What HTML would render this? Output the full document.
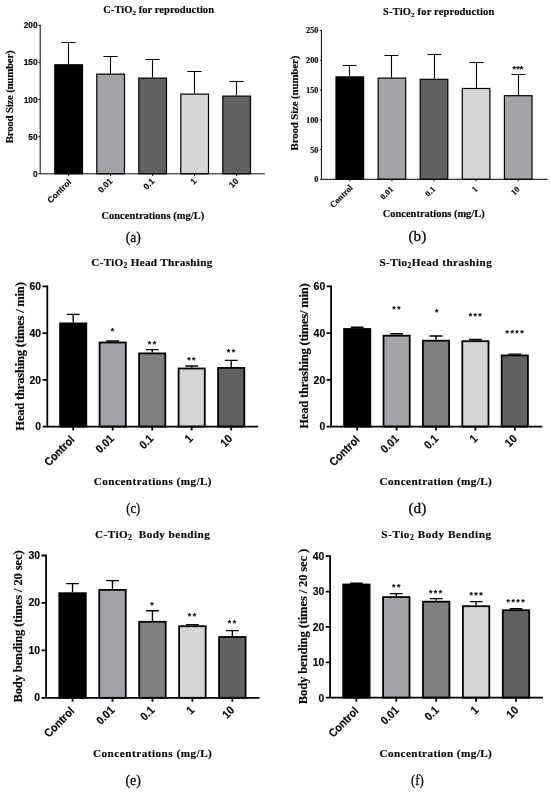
<!DOCTYPE html>
<html><head><meta charset="utf-8"><title>Figure</title>
<style>html,body{margin:0;padding:0;background:#fff}svg{display:block}text{fill:#000;stroke:#000;stroke-width:.14px;stroke-linejoin:round}.cap{stroke-width:.26px}.st{stroke-width:.1px}</style></head>
<body>
<svg width="550" height="793" viewBox="0 0 550 793">
<rect width="550" height="793" fill="#fff"/>
<g id="chart-a">
<text x="158.6" y="12.7" text-anchor="middle" font-family='"Liberation Serif", serif' font-weight="bold" font-size="10.5" textLength="110.8" lengthAdjust="spacing" xml:space="preserve">C-TiO<tspan font-size="7.14" dy="2.21">2</tspan><tspan dy="-2.21"> for reproduction</tspan></text>
<path d="M68.5 64.2V42.5M61.4 42.5H75.6" stroke="#000" stroke-width="1.1" fill="none"/>
<path d="M110.5 73.5V56.5M103.4 56.5H117.6" stroke="#000" stroke-width="1.1" fill="none"/>
<path d="M152.5 77.5V59.5M145.4 59.5H159.6" stroke="#000" stroke-width="1.1" fill="none"/>
<path d="M194.5 93.5V71.5M187.4 71.5H201.6" stroke="#000" stroke-width="1.1" fill="none"/>
<path d="M236.5 95.5V81.5M229.4 81.5H243.6" stroke="#000" stroke-width="1.1" fill="none"/>
<rect x="54.8" y="64.8" width="27.7" height="109" fill="#000" stroke="#000" stroke-width="1.2"/>
<rect x="96.8" y="74.1" width="27.7" height="99.7" fill="#a2a4a7" stroke="#000" stroke-width="1.2"/>
<rect x="138.8" y="78.1" width="27.7" height="95.7" fill="#616161" stroke="#000" stroke-width="1.2"/>
<rect x="180.8" y="94.1" width="27.7" height="79.7" fill="#d5d5d5" stroke="#000" stroke-width="1.2"/>
<rect x="222.8" y="96.1" width="27.7" height="77.7" fill="#616161" stroke="#000" stroke-width="1.2"/>
<path d="M40.2 24.82V173.8H264.8" stroke="#000" stroke-width="0.95" fill="none" stroke-linejoin="miter"/>
<text x="37.5" y="28.27" text-anchor="end" font-family='"Liberation Sans", sans-serif' font-weight="bold" font-size="8.3">200</text>
<text x="37.5" y="65.4" text-anchor="end" font-family='"Liberation Sans", sans-serif' font-weight="bold" font-size="8.3">150</text>
<text x="37.5" y="102.52" text-anchor="end" font-family='"Liberation Sans", sans-serif' font-weight="bold" font-size="8.3">100</text>
<text x="37.5" y="139.65" text-anchor="end" font-family='"Liberation Sans", sans-serif' font-weight="bold" font-size="8.3">50</text>
<text x="37.5" y="176.77" text-anchor="end" font-family='"Liberation Sans", sans-serif' font-weight="bold" font-size="8.3">0</text>
<path d="M38.4 25.3H40.2M38.4 62.42H40.2M38.4 99.55H40.2M38.4 136.68H40.2M38.4 173.8H40.2M68.65 173.8V176.1M110.65 173.8V176.1M152.65 173.8V176.1M194.65 173.8V176.1M236.65 173.8V176.1" stroke="#000" stroke-width="0.95" fill="none"/>
<text transform="translate(71.85 182.7)  rotate(-45)" text-anchor="end" font-family='"Liberation Sans", sans-serif' font-weight="bold" font-size="8.4">Control</text>
<text transform="translate(112.95 181.7)  rotate(-45)" text-anchor="end" font-family='"Liberation Sans", sans-serif' font-weight="bold" font-size="8.4">0.01</text>
<text transform="translate(154.95 181.7)  rotate(-45)" text-anchor="end" font-family='"Liberation Sans", sans-serif' font-weight="bold" font-size="8.4">0.1</text>
<text transform="translate(196.95 181.7)  rotate(-45)" text-anchor="end" font-family='"Liberation Sans", sans-serif' font-weight="bold" font-size="8.4">1</text>
<text transform="translate(238.95 181.7)  rotate(-45)" text-anchor="end" font-family='"Liberation Sans", sans-serif' font-weight="bold" font-size="8.4">10</text>
<text x="152.8" y="218.6" text-anchor="middle" font-family='"Liberation Serif", serif' font-weight="bold" font-size="10.45" textLength="102.8" lengthAdjust="spacing">Concentrations (mg/L)</text>
<text x="133.3" y="242" text-anchor="middle" font-family='"Liberation Serif", serif' font-size="14.5" class="cap" textLength="15.1" lengthAdjust="spacingAndGlyphs">(a)</text>
<text transform="translate(12.9 96.8) rotate(-90)" text-anchor="middle" font-family='"Liberation Serif", serif' font-weight="bold" font-size="10.9" textLength="92.9" lengthAdjust="spacing">Brood Size (number)</text>
</g>
<g id="chart-b">
<text x="438.7" y="14.9" text-anchor="middle" font-family='"Liberation Serif", serif' font-weight="bold" font-size="10.5" textLength="111.2" lengthAdjust="spacing" xml:space="preserve">S-TiO<tspan font-size="7.14" dy="2.21">2</tspan><tspan dy="-2.21"> for reproduction</tspan></text>
<path d="M349.5 76.3V65.5M342.5 65.5H356.5" stroke="#000" stroke-width="1.1" fill="none"/>
<path d="M391.5 77.5V55.5M384.5 55.5H398.5" stroke="#000" stroke-width="1.1" fill="none"/>
<path d="M434.5 78.7V54.5M427.5 54.5H441.5" stroke="#000" stroke-width="1.1" fill="none"/>
<path d="M476.5 87.9V62.5M469.5 62.5H483.5" stroke="#000" stroke-width="1.1" fill="none"/>
<path d="M518.5 95.1V74.5M511.5 74.5H525.5" stroke="#000" stroke-width="1.1" fill="none"/>
<rect x="336" y="76.9" width="27.6" height="102.4" fill="#000" stroke="#000" stroke-width="1.2"/>
<rect x="378.1" y="78.1" width="27.6" height="101.2" fill="#a2a4a7" stroke="#000" stroke-width="1.2"/>
<rect x="420.2" y="79.3" width="27.6" height="100" fill="#616161" stroke="#000" stroke-width="1.2"/>
<rect x="462.3" y="88.5" width="27.6" height="90.8" fill="#d5d5d5" stroke="#000" stroke-width="1.2"/>
<rect x="504.4" y="95.7" width="27.6" height="83.6" fill="#a2a4a7" stroke="#000" stroke-width="1.2"/>
<path d="M321.4 30V179.3H547.5" stroke="#000" stroke-width="1" fill="none" stroke-linejoin="miter"/>
<text x="318.5" y="33.47" text-anchor="end" font-family='"Liberation Serif", serif' font-weight="bold" font-size="8.3">250</text>
<text x="318.5" y="63.23" text-anchor="end" font-family='"Liberation Serif", serif' font-weight="bold" font-size="8.3">200</text>
<text x="318.5" y="92.99" text-anchor="end" font-family='"Liberation Serif", serif' font-weight="bold" font-size="8.3">150</text>
<text x="318.5" y="122.75" text-anchor="end" font-family='"Liberation Serif", serif' font-weight="bold" font-size="8.3">100</text>
<text x="318.5" y="152.51" text-anchor="end" font-family='"Liberation Serif", serif' font-weight="bold" font-size="8.3">50</text>
<text x="318.5" y="182.27" text-anchor="end" font-family='"Liberation Serif", serif' font-weight="bold" font-size="8.3">0</text>
<path d="M320.1 30.5H321.4M320.1 60.26H321.4M320.1 90.02H321.4M320.1 119.78H321.4M320.1 149.54H321.4M320.1 179.3H321.4M349.8 179.3V181.4M391.9 179.3V181.4M434 179.3V181.4M476.1 179.3V181.4M518.2 179.3V181.4" stroke="#000" stroke-width="1" fill="none"/>
<text transform="translate(353.2 188.3)  rotate(-45)" text-anchor="end" font-family='"Liberation Serif", serif' font-weight="bold" font-size="8.5">Control</text>
<text transform="translate(394 189.7)  rotate(-45)" text-anchor="end" font-family='"Liberation Serif", serif' font-weight="bold" font-size="8.5">0.01</text>
<text transform="translate(436.1 189.7)  rotate(-45)" text-anchor="end" font-family='"Liberation Serif", serif' font-weight="bold" font-size="8.5">0.1</text>
<text transform="translate(478.2 189.7)  rotate(-45)" text-anchor="end" font-family='"Liberation Serif", serif' font-weight="bold" font-size="8.5">1</text>
<text transform="translate(520.3 189.7)  rotate(-45)" text-anchor="end" font-family='"Liberation Serif", serif' font-weight="bold" font-size="8.5">10</text>
<text class="st" x="518.01" y="72.45" text-anchor="middle" font-family='"Liberation Sans", sans-serif' font-weight="bold" font-size="9.2" letter-spacing="0.02">***</text>
<text x="433.7" y="216.5" text-anchor="middle" font-family='"Liberation Serif", serif' font-weight="bold" font-size="10.45" textLength="102" lengthAdjust="spacing">Concentrations (mg/L)</text>
<text x="417.4" y="241.2" text-anchor="middle" font-family='"Liberation Serif", serif' font-size="14.5" class="cap" textLength="17.8" lengthAdjust="spacingAndGlyphs">(b)</text>
<text transform="translate(298.2 103.1) rotate(-90)" text-anchor="middle" font-family='"Liberation Serif", serif' font-weight="bold" font-size="10.9" textLength="94.8" lengthAdjust="spacing">Brood Size (number)</text>
</g>
<g id="chart-c">
<text x="151.8" y="265.6" text-anchor="middle" font-family='"Liberation Serif", serif' font-weight="bold" font-size="11.2" textLength="121" lengthAdjust="spacing" xml:space="preserve">C-TiO<tspan font-size="7.62" dy="2.35">2</tspan><tspan dy="-2.35"> Head Thrashing</tspan></text>
<path d="M73.2 322.5V314.4M66.8 314.4H79.6" stroke="#000" stroke-width="1.4" fill="none"/>
<path d="M112.7 341.6V341M106.3 341H119.1" stroke="#000" stroke-width="1.4" fill="none"/>
<path d="M152.2 352.5V349.6M145.8 349.6H158.6" stroke="#000" stroke-width="1.4" fill="none"/>
<path d="M191.7 367.6V366M185.3 366H198.1" stroke="#000" stroke-width="1.4" fill="none"/>
<path d="M231.2 367V360.4M224.8 360.4H237.6" stroke="#000" stroke-width="1.4" fill="none"/>
<rect x="60.1" y="323.4" width="26.2" height="103.2" fill="#000" stroke="#000" stroke-width="1.8"/>
<rect x="99.6" y="342.5" width="26.2" height="84.1" fill="#a2a4a7" stroke="#000" stroke-width="1.8"/>
<rect x="139.1" y="353.4" width="26.2" height="73.2" fill="#808080" stroke="#000" stroke-width="1.8"/>
<rect x="178.6" y="368.5" width="26.2" height="58.1" fill="#d5d5d5" stroke="#000" stroke-width="1.8"/>
<rect x="218.1" y="367.9" width="26.2" height="58.7" fill="#616161" stroke="#000" stroke-width="1.8"/>
<path d="M47.3 285.4V426.6H258.2" stroke="#000" stroke-width="1.8" fill="none" stroke-linejoin="miter"/>
<text x="41.1" y="290.15" text-anchor="end" font-family='"Liberation Sans", sans-serif' font-weight="bold" font-size="11.6" textLength="11.6" lengthAdjust="spacingAndGlyphs">60</text>
<text x="41.1" y="336.92" text-anchor="end" font-family='"Liberation Sans", sans-serif' font-weight="bold" font-size="11.6" textLength="11.6" lengthAdjust="spacingAndGlyphs">40</text>
<text x="41.1" y="383.69" text-anchor="end" font-family='"Liberation Sans", sans-serif' font-weight="bold" font-size="11.6" textLength="11.6" lengthAdjust="spacingAndGlyphs">20</text>
<text x="41.1" y="430.45" text-anchor="end" font-family='"Liberation Sans", sans-serif' font-weight="bold" font-size="11.6" textLength="5.8" lengthAdjust="spacingAndGlyphs">0</text>
<path d="M42.5 286.3H47.3M42.5 333.07H47.3M42.5 379.83H47.3M42.5 426.6H47.3M73.2 426.6V430.6M112.7 426.6V430.6M152.2 426.6V430.6M191.7 426.6V430.6M231.2 426.6V430.6" stroke="#000" stroke-width="1.8" fill="none"/>
<text transform="translate(75.2 440.5)  rotate(-45) scale(0.9 1)" text-anchor="end" font-family='"Liberation Sans", sans-serif' font-weight="bold" font-size="11.6">Control</text>
<text transform="translate(114.7 439.5)  rotate(-45) scale(0.9 1)" text-anchor="end" font-family='"Liberation Sans", sans-serif' font-weight="bold" font-size="11.6">0.01</text>
<text transform="translate(154.2 439.5)  rotate(-45) scale(0.9 1)" text-anchor="end" font-family='"Liberation Sans", sans-serif' font-weight="bold" font-size="11.6">0.1</text>
<text transform="translate(193.7 439.5)  rotate(-45) scale(0.9 1)" text-anchor="end" font-family='"Liberation Sans", sans-serif' font-weight="bold" font-size="11.6">1</text>
<text transform="translate(233.2 439.5)  rotate(-45) scale(0.9 1)" text-anchor="end" font-family='"Liberation Sans", sans-serif' font-weight="bold" font-size="11.6">10</text>
<text class="st" x="112.4" y="333.93" text-anchor="middle" font-family='"Liberation Sans", sans-serif' font-weight="bold" font-size="8.8">*</text>
<text class="st" x="152.71" y="346.93" text-anchor="middle" font-family='"Liberation Sans", sans-serif' font-weight="bold" font-size="8.8" letter-spacing="1.43">**</text>
<text class="st" x="192.11" y="362.73" text-anchor="middle" font-family='"Liberation Sans", sans-serif' font-weight="bold" font-size="8.8" letter-spacing="1.43">**</text>
<text class="st" x="231.71" y="355.33" text-anchor="middle" font-family='"Liberation Sans", sans-serif' font-weight="bold" font-size="8.8" letter-spacing="1.43">**</text>
<text x="152.7" y="485.3" text-anchor="middle" font-family='"Liberation Serif", serif' font-weight="bold" font-size="11.2" textLength="117.8" lengthAdjust="spacing">Concentrations (mg/L)</text>
<text x="133.3" y="512.5" text-anchor="middle" font-family='"Liberation Serif", serif' font-size="14.5" class="cap" textLength="13.9" lengthAdjust="spacingAndGlyphs">(c)</text>
<text transform="translate(23.6 356.4) rotate(-90)" text-anchor="middle" font-family='"Liberation Serif", serif' font-weight="bold" font-size="12.6" textLength="148.5" lengthAdjust="spacing">Head thrashing (times / min)</text>
</g>
<g id="chart-d">
<text x="435.6" y="265.6" text-anchor="middle" font-family='"Liberation Serif", serif' font-weight="bold" font-size="11.2" textLength="112.4" lengthAdjust="spacing" xml:space="preserve">S-Tio<tspan font-size="7.62" dy="2.35">2</tspan><tspan dy="-2.35">Head thrashing</tspan></text>
<path d="M357.2 328.1V327.3M350.8 327.3H363.6" stroke="#000" stroke-width="1.4" fill="none"/>
<path d="M396.6 334.8V333.8M390.2 333.8H403" stroke="#000" stroke-width="1.4" fill="none"/>
<path d="M436 339.8V336M429.6 336H442.4" stroke="#000" stroke-width="1.4" fill="none"/>
<path d="M475.4 340.3V339.5M469 339.5H481.8" stroke="#000" stroke-width="1.4" fill="none"/>
<path d="M514.8 354.5V354.1M508.4 354.1H521.2" stroke="#000" stroke-width="1.4" fill="none"/>
<rect x="344.1" y="329" width="26.2" height="97.6" fill="#000" stroke="#000" stroke-width="1.8"/>
<rect x="383.5" y="335.7" width="26.2" height="90.9" fill="#a2a4a7" stroke="#000" stroke-width="1.8"/>
<rect x="422.9" y="340.7" width="26.2" height="85.9" fill="#808080" stroke="#000" stroke-width="1.8"/>
<rect x="462.3" y="341.2" width="26.2" height="85.4" fill="#d5d5d5" stroke="#000" stroke-width="1.8"/>
<rect x="501.7" y="355.4" width="26.2" height="71.2" fill="#616161" stroke="#000" stroke-width="1.8"/>
<path d="M331.1 285.4V426.6H542.2" stroke="#000" stroke-width="1.8" fill="none" stroke-linejoin="miter"/>
<text x="325.2" y="290.15" text-anchor="end" font-family='"Liberation Sans", sans-serif' font-weight="bold" font-size="11.6" textLength="11.6" lengthAdjust="spacingAndGlyphs">60</text>
<text x="325.2" y="336.92" text-anchor="end" font-family='"Liberation Sans", sans-serif' font-weight="bold" font-size="11.6" textLength="11.6" lengthAdjust="spacingAndGlyphs">40</text>
<text x="325.2" y="383.69" text-anchor="end" font-family='"Liberation Sans", sans-serif' font-weight="bold" font-size="11.6" textLength="11.6" lengthAdjust="spacingAndGlyphs">20</text>
<text x="325.2" y="430.45" text-anchor="end" font-family='"Liberation Sans", sans-serif' font-weight="bold" font-size="11.6" textLength="5.8" lengthAdjust="spacingAndGlyphs">0</text>
<path d="M326.6 286.3H331.1M326.6 333.07H331.1M326.6 379.83H331.1M326.6 426.6H331.1M357.2 426.6V430.6M396.6 426.6V430.6M436 426.6V430.6M475.4 426.6V430.6M514.8 426.6V430.6" stroke="#000" stroke-width="1.8" fill="none"/>
<text transform="translate(360.2 440.5)  rotate(-45) scale(0.9 1)" text-anchor="end" font-family='"Liberation Sans", sans-serif' font-weight="bold" font-size="11.6">Control</text>
<text transform="translate(399.6 439.5)  rotate(-45) scale(0.9 1)" text-anchor="end" font-family='"Liberation Sans", sans-serif' font-weight="bold" font-size="11.6">0.01</text>
<text transform="translate(439 439.5)  rotate(-45) scale(0.9 1)" text-anchor="end" font-family='"Liberation Sans", sans-serif' font-weight="bold" font-size="11.6">0.1</text>
<text transform="translate(478.4 439.5)  rotate(-45) scale(0.9 1)" text-anchor="end" font-family='"Liberation Sans", sans-serif' font-weight="bold" font-size="11.6">1</text>
<text transform="translate(517.8 439.5)  rotate(-45) scale(0.9 1)" text-anchor="end" font-family='"Liberation Sans", sans-serif' font-weight="bold" font-size="11.6">10</text>
<text class="st" x="397.11" y="312.23" text-anchor="middle" font-family='"Liberation Sans", sans-serif' font-weight="bold" font-size="8.8" letter-spacing="1.43">**</text>
<text class="st" x="436.6" y="314.53" text-anchor="middle" font-family='"Liberation Sans", sans-serif' font-weight="bold" font-size="8.8">*</text>
<text class="st" x="475.91" y="318.53" text-anchor="middle" font-family='"Liberation Sans", sans-serif' font-weight="bold" font-size="8.8" letter-spacing="1.43">***</text>
<text class="st" x="515.31" y="335.73" text-anchor="middle" font-family='"Liberation Sans", sans-serif' font-weight="bold" font-size="8.8" letter-spacing="1.43">****</text>
<text x="435.7" y="485.3" text-anchor="middle" font-family='"Liberation Serif", serif' font-weight="bold" font-size="11.2" textLength="112.2" lengthAdjust="spacing">Concentration (mg/L)</text>
<text x="417.4" y="512.5" text-anchor="middle" font-family='"Liberation Serif", serif' font-size="14.5" class="cap" textLength="17.8" lengthAdjust="spacingAndGlyphs">(d)</text>
<text transform="translate(308.1 356) rotate(-90)" text-anchor="middle" font-family='"Liberation Serif", serif' font-weight="bold" font-size="12.6" textLength="145.5" lengthAdjust="spacing">Head thrashing (times/ min)</text>
</g>
<g id="chart-e">
<text x="152.4" y="537.9" text-anchor="middle" font-family='"Liberation Serif", serif' font-weight="bold" font-size="11.2" textLength="114.7" lengthAdjust="spacing" xml:space="preserve">C-TiO<tspan font-size="7.62" dy="2.35">2</tspan><tspan dy="-2.35">  Body bending</tspan></text>
<path d="M72.55 592.3V583.6M66.15 583.6H78.95" stroke="#000" stroke-width="1.4" fill="none"/>
<path d="M112.5 589V580.6M106.1 580.6H118.9" stroke="#000" stroke-width="1.4" fill="none"/>
<path d="M152.45 620.9V610.8M146.05 610.8H158.85" stroke="#000" stroke-width="1.4" fill="none"/>
<path d="M192.4 625.3V624.6M186 624.6H198.8" stroke="#000" stroke-width="1.4" fill="none"/>
<path d="M232.35 636.1V630.6M225.95 630.6H238.75" stroke="#000" stroke-width="1.4" fill="none"/>
<rect x="59.3" y="593.2" width="26.5" height="104.6" fill="#000" stroke="#000" stroke-width="1.8"/>
<rect x="99.25" y="589.9" width="26.5" height="107.9" fill="#a2a4a7" stroke="#000" stroke-width="1.8"/>
<rect x="139.2" y="621.8" width="26.5" height="76" fill="#808080" stroke="#000" stroke-width="1.8"/>
<rect x="179.15" y="626.2" width="26.5" height="71.6" fill="#d5d5d5" stroke="#000" stroke-width="1.8"/>
<rect x="219.1" y="637" width="26.5" height="60.8" fill="#616161" stroke="#000" stroke-width="1.8"/>
<path d="M46.1 554.6V697.8H259.5" stroke="#000" stroke-width="1.8" fill="none" stroke-linejoin="miter"/>
<text x="40.1" y="558.85" text-anchor="end" font-family='"Liberation Sans", sans-serif' font-weight="bold" font-size="11.6" textLength="11.6" lengthAdjust="spacingAndGlyphs">30</text>
<text x="40.1" y="606.29" text-anchor="end" font-family='"Liberation Sans", sans-serif' font-weight="bold" font-size="11.6" textLength="11.6" lengthAdjust="spacingAndGlyphs">20</text>
<text x="40.1" y="653.72" text-anchor="end" font-family='"Liberation Sans", sans-serif' font-weight="bold" font-size="11.6" textLength="11.6" lengthAdjust="spacingAndGlyphs">10</text>
<text x="40.1" y="701.15" text-anchor="end" font-family='"Liberation Sans", sans-serif' font-weight="bold" font-size="11.6" textLength="5.8" lengthAdjust="spacingAndGlyphs">0</text>
<path d="M41.5 555.5H46.1M41.5 602.93H46.1M41.5 650.37H46.1M41.5 697.8H46.1M72.55 697.8V701.8M112.5 697.8V701.8M152.45 697.8V701.8M192.4 697.8V701.8M232.35 697.8V701.8" stroke="#000" stroke-width="1.8" fill="none"/>
<text transform="translate(75.05 711.8)  rotate(-45) scale(0.9 1)" text-anchor="end" font-family='"Liberation Sans", sans-serif' font-weight="bold" font-size="11.6">Control</text>
<text transform="translate(115.3 711)  rotate(-45) scale(0.9 1)" text-anchor="end" font-family='"Liberation Sans", sans-serif' font-weight="bold" font-size="11.6">0.01</text>
<text transform="translate(155.25 711)  rotate(-45) scale(0.9 1)" text-anchor="end" font-family='"Liberation Sans", sans-serif' font-weight="bold" font-size="11.6">0.1</text>
<text transform="translate(195.2 711)  rotate(-45) scale(0.9 1)" text-anchor="end" font-family='"Liberation Sans", sans-serif' font-weight="bold" font-size="11.6">1</text>
<text transform="translate(235.15 711)  rotate(-45) scale(0.9 1)" text-anchor="end" font-family='"Liberation Sans", sans-serif' font-weight="bold" font-size="11.6">10</text>
<text class="st" x="152" y="607.73" text-anchor="middle" font-family='"Liberation Sans", sans-serif' font-weight="bold" font-size="8.8">*</text>
<text class="st" x="192.71" y="618.73" text-anchor="middle" font-family='"Liberation Sans", sans-serif' font-weight="bold" font-size="8.8" letter-spacing="1.43">**</text>
<text class="st" x="232.71" y="625.73" text-anchor="middle" font-family='"Liberation Sans", sans-serif' font-weight="bold" font-size="8.8" letter-spacing="1.43">**</text>
<text x="152.4" y="756.5" text-anchor="middle" font-family='"Liberation Serif", serif' font-weight="bold" font-size="11.2" textLength="118.9" lengthAdjust="spacing">Concentrations (mg/L)</text>
<text x="133.1" y="784.5" text-anchor="middle" font-family='"Liberation Serif", serif' font-size="14.5" class="cap" textLength="15.4" lengthAdjust="spacingAndGlyphs">(e)</text>
<text transform="translate(22.2 626.5) rotate(-90)" text-anchor="middle" font-family='"Liberation Serif", serif' font-weight="bold" font-size="12.6" textLength="152.2" lengthAdjust="spacing">Body bending (times / 20 sec)</text>
</g>
<g id="chart-f">
<text x="436.2" y="537.9" text-anchor="middle" font-family='"Liberation Serif", serif' font-weight="bold" font-size="11.2" textLength="109.7" lengthAdjust="spacing" xml:space="preserve">S-Tio<tspan font-size="7.62" dy="2.35">2</tspan><tspan dy="-2.35"> Body Bending</tspan></text>
<path d="M356.4 583.6V583.2M350 583.2H362.8" stroke="#000" stroke-width="1.4" fill="none"/>
<path d="M396.3 596.2V593.6M389.9 593.6H402.7" stroke="#000" stroke-width="1.4" fill="none"/>
<path d="M436.2 600.8V598.6M429.8 598.6H442.6" stroke="#000" stroke-width="1.4" fill="none"/>
<path d="M476.1 605.3V601.6M469.7 601.6H482.5" stroke="#000" stroke-width="1.4" fill="none"/>
<path d="M516 609.3V608.8M509.6 608.8H522.4" stroke="#000" stroke-width="1.4" fill="none"/>
<rect x="343.2" y="584.5" width="26.4" height="113.2" fill="#000" stroke="#000" stroke-width="1.8"/>
<rect x="383.1" y="597.1" width="26.4" height="100.6" fill="#a2a4a7" stroke="#000" stroke-width="1.8"/>
<rect x="423" y="601.7" width="26.4" height="96" fill="#808080" stroke="#000" stroke-width="1.8"/>
<rect x="462.9" y="606.2" width="26.4" height="91.5" fill="#d5d5d5" stroke="#000" stroke-width="1.8"/>
<rect x="502.8" y="610.2" width="26.4" height="87.5" fill="#616161" stroke="#000" stroke-width="1.8"/>
<path d="M330.1 555.3V697.7H543" stroke="#000" stroke-width="1.8" fill="none" stroke-linejoin="miter"/>
<text x="324.4" y="560.05" text-anchor="end" font-family='"Liberation Sans", sans-serif' font-weight="bold" font-size="11.6" textLength="11.6" lengthAdjust="spacingAndGlyphs">40</text>
<text x="324.4" y="595.43" text-anchor="end" font-family='"Liberation Sans", sans-serif' font-weight="bold" font-size="11.6" textLength="11.6" lengthAdjust="spacingAndGlyphs">30</text>
<text x="324.4" y="630.8" text-anchor="end" font-family='"Liberation Sans", sans-serif' font-weight="bold" font-size="11.6" textLength="11.6" lengthAdjust="spacingAndGlyphs">20</text>
<text x="324.4" y="666.18" text-anchor="end" font-family='"Liberation Sans", sans-serif' font-weight="bold" font-size="11.6" textLength="11.6" lengthAdjust="spacingAndGlyphs">10</text>
<text x="324.4" y="701.55" text-anchor="end" font-family='"Liberation Sans", sans-serif' font-weight="bold" font-size="11.6" textLength="5.8" lengthAdjust="spacingAndGlyphs">0</text>
<path d="M325.8 556.2H330.1M325.8 591.58H330.1M325.8 626.95H330.1M325.8 662.33H330.1M325.8 697.7H330.1M356.4 697.7V701.7M396.3 697.7V701.7M436.2 697.7V701.7M476.1 697.7V701.7M516 697.7V701.7" stroke="#000" stroke-width="1.8" fill="none"/>
<text transform="translate(359.4 711.8)  rotate(-45) scale(0.9 1)" text-anchor="end" font-family='"Liberation Sans", sans-serif' font-weight="bold" font-size="11.6">Control</text>
<text transform="translate(399.6 711)  rotate(-45) scale(0.9 1)" text-anchor="end" font-family='"Liberation Sans", sans-serif' font-weight="bold" font-size="11.6">0.01</text>
<text transform="translate(439.5 711)  rotate(-45) scale(0.9 1)" text-anchor="end" font-family='"Liberation Sans", sans-serif' font-weight="bold" font-size="11.6">0.1</text>
<text transform="translate(479.4 711)  rotate(-45) scale(0.9 1)" text-anchor="end" font-family='"Liberation Sans", sans-serif' font-weight="bold" font-size="11.6">1</text>
<text transform="translate(519.3 711)  rotate(-45) scale(0.9 1)" text-anchor="end" font-family='"Liberation Sans", sans-serif' font-weight="bold" font-size="11.6">10</text>
<text class="st" x="396.91" y="589.53" text-anchor="middle" font-family='"Liberation Sans", sans-serif' font-weight="bold" font-size="8.8" letter-spacing="1.43">**</text>
<text class="st" x="436.31" y="596.23" text-anchor="middle" font-family='"Liberation Sans", sans-serif' font-weight="bold" font-size="8.8" letter-spacing="1.43">***</text>
<text class="st" x="476.71" y="597.73" text-anchor="middle" font-family='"Liberation Sans", sans-serif' font-weight="bold" font-size="8.8" letter-spacing="1.43">***</text>
<text class="st" x="516.31" y="604.73" text-anchor="middle" font-family='"Liberation Sans", sans-serif' font-weight="bold" font-size="8.8" letter-spacing="1.43">****</text>
<text x="435.6" y="756.5" text-anchor="middle" font-family='"Liberation Serif", serif' font-weight="bold" font-size="11.2" textLength="112.4" lengthAdjust="spacing">Concentration (mg/L)</text>
<text x="417.4" y="784.5" text-anchor="middle" font-family='"Liberation Serif", serif' font-size="14.5" class="cap" textLength="12.8" lengthAdjust="spacingAndGlyphs">(f)</text>
<text transform="translate(306.6 626.5) rotate(-90)" text-anchor="middle" font-family='"Liberation Serif", serif' font-weight="bold" font-size="12.6" textLength="155.5" lengthAdjust="spacing">Body bending (times / 20 sec )</text>
</g>
</svg>
</body></html>
